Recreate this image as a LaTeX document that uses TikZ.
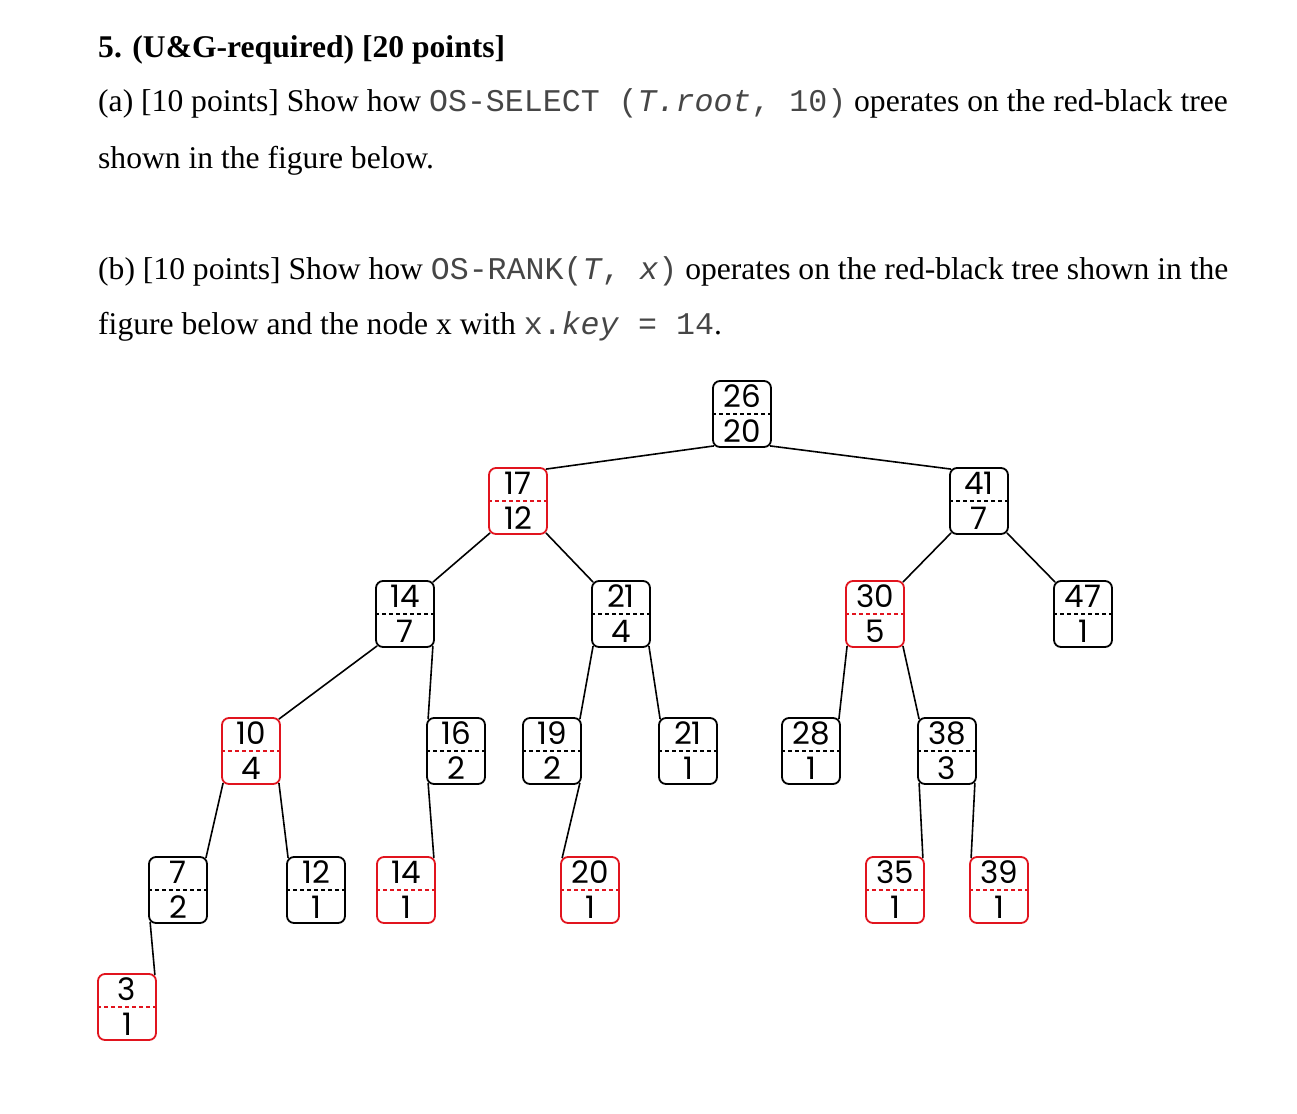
\documentclass[tikz,border=0pt]{standalone}
\usepackage{fontspec}
\setmainfont{Liberation Serif}
\setmonofont{Liberation Mono}
\newfontfamily\nodefont{Poppins}
\definecolor{rbred}{RGB}{225,20,30}
\definecolor{codegray}{RGB}{70,70,70}
\newcommand{\cd}[1]{{\ttfamily\color{codegray}#1}}
\newcommand{\tnode}[6]{%
  \node[tbox,draw=#6] (#1) at (#2,#3) {};
  \draw[sep,#6] (#1.west) -- (#1.east);
  \node[tnum] (#1t) at ([yshift=17.5pt]#1.center) {#4};
  \node[tnum] (#1b) at ([yshift=-17.5pt]#1.center) {#5};}
\begin{document}
\begin{tikzpicture}[x=1pt,y=-1pt,
  tbox/.style={rectangle,rounded corners=7pt,line width=1.8pt,minimum width=58pt,minimum height=66pt,inner sep=0pt,fill=white},
  sep/.style={dashed,line width=1.3pt,dash pattern=on 4pt off 3pt},
  tnum/.style={font=\nodefont\fontsize{31}{31}\selectfont,inner sep=0pt},
  edge/.style={line width=1.6pt},
  txt/.style={anchor=base west,inner sep=0pt,font=\fontsize{31.6}{38}\selectfont}]
\useasboundingbox (0,0) rectangle (1297,1113);
\node[txt] (l1) at (98,58) {\textbf{5. (U\&G-required) [20 points]}};
\node[txt] (l2) at (98,112) {(a) [10 points] Show how \cd{OS-SELECT (\textit{T.root}, 10)} operates on the red-black tree};
\node[txt] (l3) at (98,168) {shown in the figure below.};
\node[txt] (l4) at (98,279) {(b) [10 points] Show how \cd{OS-RANK(\textit{T}, \textit{x})} operates on the red-black tree shown in the};
\node[txt] (l5) at (98,334) {figure below and the node x with \cd{x.\textit{key} = 14}.};
\tnode{n26}{742}{414}{26}{20}{black}
\tnode{n17}{518}{501}{17}{12}{rbred}
\tnode{n41}{979}{501}{41}{7}{black}
\tnode{n14}{405}{614}{14}{7}{black}
\tnode{n21}{621}{614}{21}{4}{black}
\tnode{n30}{875}{614}{30}{5}{rbred}
\tnode{n47}{1083}{614}{47}{1}{black}
\tnode{n10}{251}{751}{10}{4}{rbred}
\tnode{n16}{456}{751}{16}{2}{black}
\tnode{n19}{552}{751}{19}{2}{black}
\tnode{n21b}{688}{751}{21}{1}{black}
\tnode{n28}{811}{751}{28}{1}{black}
\tnode{n38}{947}{751}{38}{3}{black}
\tnode{n7}{178}{890}{7}{2}{black}
\tnode{n12}{316}{890}{12}{1}{black}
\tnode{n14b}{406}{890}{14}{1}{rbred}
\tnode{n20}{590}{890}{20}{1}{rbred}
\tnode{n35}{895}{890}{35}{1}{rbred}
\tnode{n39}{999}{890}{39}{1}{rbred}
\tnode{n3}{127}{1007}{3}{1}{rbred}
\foreach \a/\b in {n26/n17,n17/n14,n41/n30,n14/n10,n21/n19,n30/n28,n10/n7,n16/n14b,n38/n35,n7/n3}
  \draw[edge] ([shift={(2pt,2pt)}]\a.south west) -- ([shift={(-2pt,-2pt)}]\b.north east);
\foreach \a/\b in {n26/n41,n17/n21,n41/n47,n14/n16,n21/n21b,n30/n38,n10/n12,n19/n20,n38/n39}
  \draw[edge] ([shift={(-2pt,2pt)}]\a.south east) -- ([shift={(2pt,-2pt)}]\b.north west);
\end{tikzpicture}
\end{document}
